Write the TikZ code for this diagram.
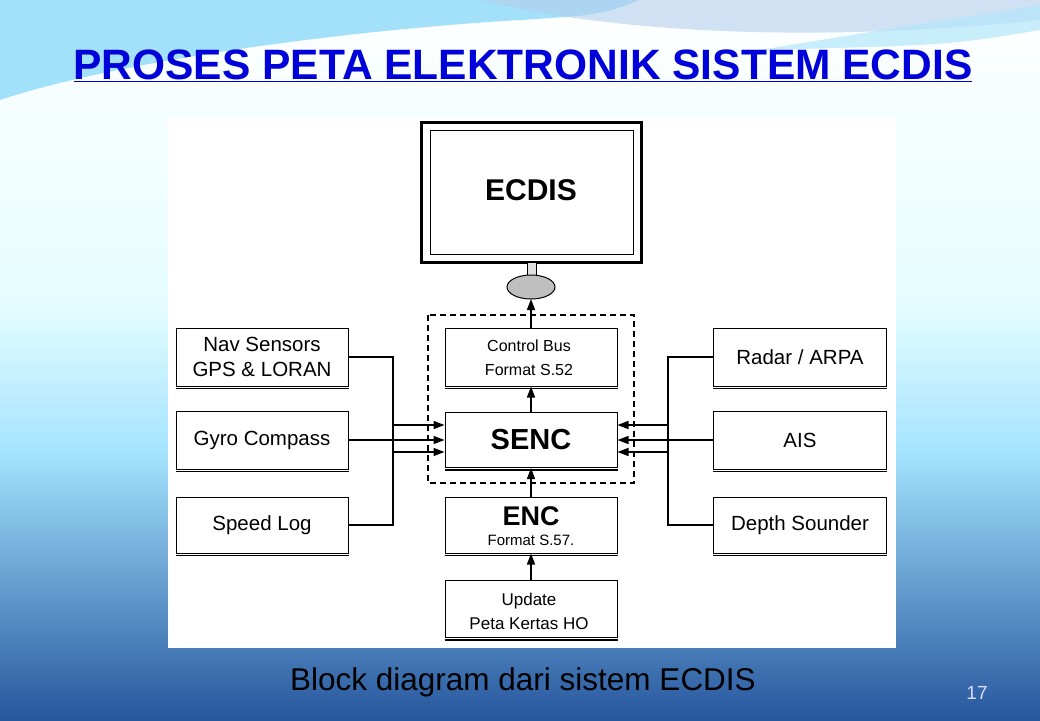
\documentclass[tikz,border=0pt]{standalone}
\usepackage{fontspec}
\setmainfont{Liberation Sans}
\usetikzlibrary{arrows.meta}
\begin{document}
\begin{tikzpicture}[x=1pt,y=-1pt,
  box/.style={draw=black,line width=1pt,fill=white,inner sep=0pt},
  conn/.style={line width=1.3pt,-{Triangle[length=11pt,width=8pt]}},
  lbl/.style={font=\fontsize{20.5}{25}\selectfont,align=center}]
\useasboundingbox (0,0) rectangle (1040,720);
\shade[top color=white,bottom color=blue!8!cyan!10!white] (0,0) rectangle (1040,300);
\shade[top color=blue!8!cyan!10!white,bottom color=blue!30!cyan!35!white] (0,300) rectangle (1040,450);
\shade[top color=blue!30!cyan!35!white,bottom color=blue!60!cyan!55!black!85] (0,450) rectangle (1040,720);
% waves
\fill[cyan!45!white,opacity=0.8] (0,0) -- (0,100) .. controls (120,60) and (350,30) .. (520,20) .. controls (600,15) .. (640,0) -- cycle;
\fill[cyan!60!blue!30!white,opacity=0.6] (480,0) .. controls (600,30) and (800,45) .. (1040,20) -- (1040,0) -- cycle;
\fill[cyan!30!white,opacity=0.7] (760,50) .. controls (880,30) and (980,15) .. (1040,5) -- (1040,30) .. controls (950,45) .. (760,50);
\node[text=blue!85!black,font=\fontsize{42.5}{46}\selectfont\bfseries] (title) at (523,66) {\underline{PROSES PETA ELEKTRONIK SISTEM ECDIS}};
% panel
\fill[white] (168,117) rectangle (896,648);
% monitor
\draw[line width=3pt,fill=white] (421,122) rectangle (641,262);
\draw[line width=1pt] (430,130) rectangle (633,254);
\node[font=\fontsize{30}{34}\selectfont\bfseries] (ecdis) at (531,190) {ECDIS};
\draw[line width=1pt,fill=gray!25] (527,262) rectangle (536,283);
\draw[line width=1pt,fill=gray!50] (531,287) ellipse (24 and 12);
\coordinate (stand) at (531,299);
% dashed
\draw[line width=1.2pt,dash pattern=on 6pt off 4pt] (428,315) rectangle (634,483);
% center boxes
\node[box,minimum width=172,minimum height=58] (cb) at (531,357) {};
\node[font=\fontsize{16}{18}\selectfont] (cbt1) at (529,346) {Control Bus};
\node[font=\fontsize{16}{18}\selectfont] (cbt2) at (529,370) {Format S.52};
\node[box,minimum width=172,minimum height=55,font=\fontsize{29}{32}\selectfont\bfseries] (senc) at (531,440) {SENC};
\node[box,minimum width=172,minimum height=56] (enc) at (531,525) {};
\node[font=\fontsize{27}{30}\selectfont\bfseries] (enct) at (531,516) {ENC};
\node[font=\fontsize{15}{17}\selectfont] (encs) at (531,540) {Format S.57.};
\node[box,minimum width=172,minimum height=57] (upd) at (531,609) {};
\node[font=\fontsize{17}{19}\selectfont] (updt1) at (529,601) {Update};
\node[font=\fontsize{17}{19}\selectfont] (updt2) at (529,624) {Peta Kertas HO};
% side boxes
\node[box,lbl,minimum width=172,minimum height=58] (nav) at (262,357) {Nav Sensors\\GPS \& LORAN};
\node[box,lbl,minimum width=172,minimum height=58] (gyro) at (262,440) {Gyro Compass};
\node[box,lbl,minimum width=172,minimum height=56] (speed) at (262,525) {Speed Log};
\node[box,lbl,minimum width=173,minimum height=58] (radar) at (800,357) {Radar / ARPA};
\node[box,lbl,minimum width=173,minimum height=58] (ais) at (800,440) {AIS};
\node[box,lbl,minimum width=173,minimum height=56] (depth) at (800,525) {Depth Sounder};
% shadows
\foreach \n in {cb,senc,enc,upd,nav,gyro,speed,radar,ais,depth}{
  \draw[line width=1.2pt] ([yshift=-2pt]\n.south west) -- ([yshift=-2pt]\n.south east);}
% connectors
\draw[conn] (nav.east) -- (393,357) |- ([yshift=-12pt]senc.west);
\draw[conn] (gyro.east) -- (senc.west);
\draw[conn] (speed.east) -- (393,525) |- ([yshift=15pt]senc.west);
\draw[conn] (radar.west) -- (668,357) |- ([yshift=-12pt]senc.east);
\draw[conn] (ais.west) -- (senc.east);
\draw[conn] (depth.west) -- (668,525) |- ([yshift=15pt]senc.east);
\draw[conn] (upd.north) -- (enc.south);
\draw[conn] (enc.north) -- (senc.south);
\draw[conn] (senc.north) -- (cb.south);
\draw[conn] (cb.north) -- (stand);
\node[font=\fontsize{31.5}{34}\selectfont] (cap) at (523,682) {Block diagram dari sistem ECDIS};
\node[font=\fontsize{19}{22}\selectfont\rmfamily,text=white!85!blue] (pg) at (977,693) {17};
\end{tikzpicture}
\end{document}
